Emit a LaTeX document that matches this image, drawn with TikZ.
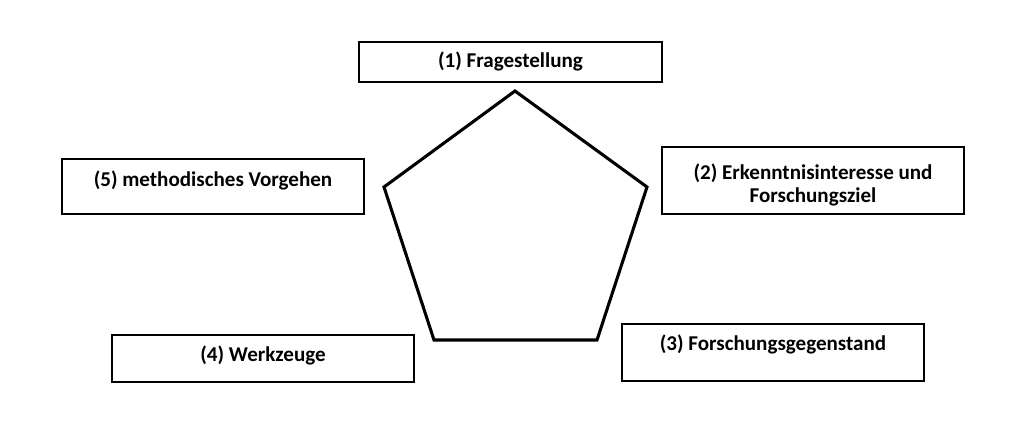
\documentclass[tikz,border=0pt]{standalone}
\usepackage{fontspec}
\setmainfont{Carlito}
\begin{document}
\begin{tikzpicture}[x=0.75pt,y=-0.75pt,
  box/.style={draw=black,line width=1.3pt,fill=white,inner sep=0pt},
  lbl/.style={font=\bfseries\fontsize{15.8}{17.25}\selectfont,anchor=base,align=center,inner sep=0pt},
  penta/.style={draw=black,line width=2.3pt,line join=miter}]
\useasboundingbox (0,0) rectangle (1024,435);
% boxes
\node[box,minimum width=303*0.75pt,minimum height=40*0.75pt] (b1) at (510.5,62) {};
\node[box,minimum width=302*0.75pt,minimum height=67*0.75pt] (b2) at (813,180.5) {};
\node[box,minimum width=302*0.75pt,minimum height=57*0.75pt] (b3) at (773,352.5) {};
\node[box,minimum width=302*0.75pt,minimum height=47*0.75pt] (b4) at (263,358.5) {};
\node[box,minimum width=302*0.75pt,minimum height=55*0.75pt] (b5) at (213,186.5) {};
% labels
\node[lbl] (t1) at (510.5,68) {(1) Fragestellung};
\node[lbl] (t2) at (813,202) {(2) Erkenntnisinteresse und\\Forschungsziel};
\node[lbl] (t3) at (773,350) {(3) Forschungsgegenstand};
\node[lbl] (t4) at (263,361) {(4) Werkzeuge};
\node[lbl] (t5) at (213,186) {(5) methodisches Vorgehen};
% pentagon
\coordinate (p1) at (515,91);
\coordinate (p2) at (647,187);
\coordinate (p3) at (597,340);
\coordinate (p4) at (434,340);
\coordinate (p5) at (384,187);
\draw[penta] (p1) -- (p2) -- (p3) -- (p4) -- (p5) -- cycle;
\end{tikzpicture}
\end{document}
